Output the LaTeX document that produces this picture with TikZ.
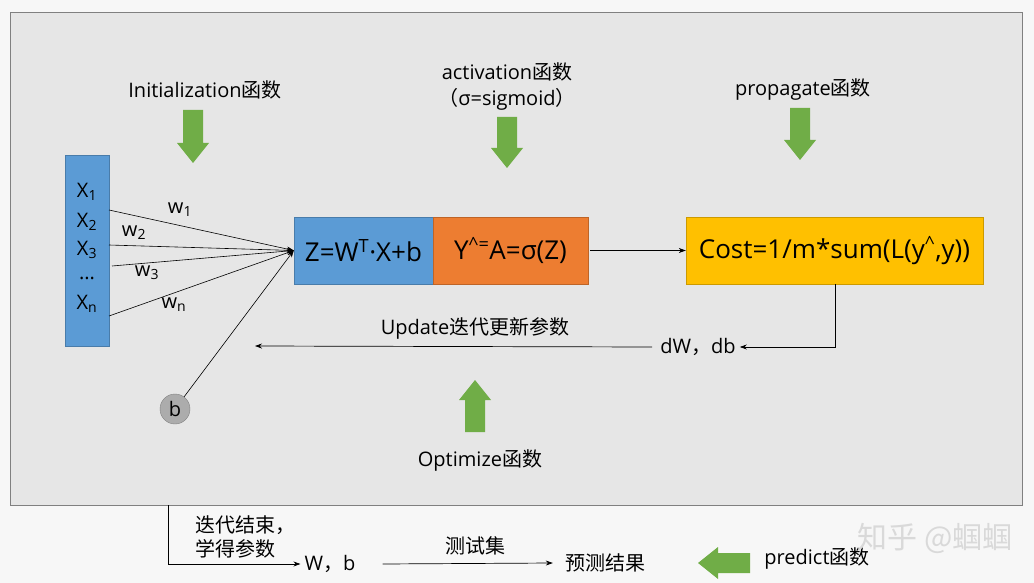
\documentclass[tikz,border=0pt]{standalone}
\usepackage{fontspec}
\setmainfont{Open Sans}
\newfontfamily\cjk{Noto Sans CJK SC}
\usetikzlibrary{arrows.meta}
\definecolor{bgout}{HTML}{F7F7F7}
\definecolor{bgin}{HTML}{E6E6E6}
\definecolor{bblue}{HTML}{5B9BD5}
\definecolor{borange}{HTML}{ED7D31}
\definecolor{byellow}{HTML}{FFC000}
\definecolor{bgreen}{HTML}{70AD47}
\tikzset{
 lbl/.style={font=\fontsize{20}{22}\selectfont, inner sep=0pt},
 big/.style={font=\fontsize{26}{28}\selectfont, inner sep=0pt},
 con/.style={draw=black, line width=0.7pt, -{Stealth[length=7pt,width=5pt]}},
}
\newcommand{\gdown}[3]{\fill[bgreen] (#1-10,#2) -- (#1+10,#2) -- (#1+10,#3-20) -- (#1+16,#3-20) -- (#1,#3) -- (#1-16,#3-20) -- (#1-10,#3-20) -- cycle;}
\newcommand{\gup}[3]{\fill[bgreen] (#1-10,#2) -- (#1+10,#2) -- (#1+10,#3+20) -- (#1+16,#3+20) -- (#1,#3) -- (#1-16,#3+20) -- (#1-10,#3+20) -- cycle;}
\begin{document}
\begin{tikzpicture}[x=1pt,y=-1pt]
\fill[bgout] (0,0) rectangle (1034,583);
\useasboundingbox (0,0) rectangle (1034,583);
\draw[gray, fill=bgin] (10,12) rectangle (1022,505);
% inputs
\node[fill=bblue, draw=bblue!80!black, minimum width=44pt, minimum height=191pt, inner sep=0pt] (x) at (87,250.5) {};
\node[lbl] (x1) at (87,192) {X\textsubscript{1}};
\node[lbl] (x2) at (87,222) {X\textsubscript{2}};
\node[lbl] (x3) at (87,250) {X\textsubscript{3}};
\node[lbl] (xd) at (87,278) {...};
\node[lbl] (xn) at (87,304) {X\textsubscript{n}};
\coordinate (s1) at (109,210);
\coordinate (s2) at (109,245);
\coordinate (s3) at (112,266);
\coordinate (sn) at (109,316);
\node[fill=bblue, draw=bblue!80!black, minimum width=139pt, minimum height=67pt, inner sep=0pt] (z) at (363.5,250.5) {};
\node[big] at (z) {Z=W\textsuperscript{T}·X+b};
\node[fill=borange, draw=borange!80!black, minimum width=155pt, minimum height=67pt, inner sep=0pt] (a) at (510.5,250.5) {};
\node[big] at (a) {Y\textsuperscript{\textasciicircum=}A=σ(Z)};
\node[fill=byellow, draw=byellow!80!black, minimum width=297pt, minimum height=67pt, inner sep=0pt] (c) at (834.5,250.5) {};
\node[big] at (c) {Cost=1/m*sum(L(y\textsuperscript{\textasciicircum},y))};
\coordinate (zin) at (z.west);
\foreach \s in {s1,s2,s3,sn} \draw[con, line width=0.6pt] (\s) -- (zin);
\node[circle, fill=gray!65, draw=gray, minimum size=30pt, inner sep=0pt, lbl] (b) at (175,409) {b};
\draw[con, line width=0.6pt] (b) -- (zin);
\node[lbl] at (180,210) {w\textsubscript{1}};
\node[lbl] at (134,233) {w\textsubscript{2}};
\node[lbl] at (147,273) {w\textsubscript{3}};
\node[lbl] at (174,305) {w\textsubscript{n}};
\draw[con] (a.east) ++(2,0) -- (c.west);
% back path
\node[lbl] (dw) at (698,347) {dW{\cjk ，}db};
\coordinate (cb) at (835,284);
\draw[con] (cb) |- ([xshift=4pt]dw.east);
\coordinate (uend) at (255,346);
\draw[con] ([xshift=-8pt]dw.west) -- (uend);
\node[lbl] at (475,328) {Update{\cjk 迭代更新参数}};
% green arrows & labels
\node[lbl] at (205,90) {Initialization{\cjk 函数}};
\gdown{193}{110}{163}
\node[lbl] at (507,72) {activation{\cjk 函数}};
\node[lbl] at (507,99) {{\cjk （}σ=sigmoid{\cjk ）}};
\gdown{507}{117}{168}
\node[lbl] at (803,89) {propagate{\cjk 函数}};
\gdown{800}{108}{160}
\gup{475}{432}{380}
\node[lbl] at (480,460) {Optimize{\cjk 函数}};
% bottom
\node[lbl] (wb) at (330,564) {W{\cjk ，}b};
\coordinate (ob) at (168,505);
\draw[con] (ob) |- ([xshift=-4pt]wb.west);
\node[lbl, align=left, anchor=west] at (195,537) {{\cjk 迭代结束，}\\[2pt]{\cjk 学得参数}};
\node[lbl] (res) at (605,563) {\cjk 预测结果};
\draw[con] ([xshift=27pt]wb.east) -- ([xshift=-12pt]res.west);
\node[lbl] at (475,546) {\cjk 测试集};
\fill[bgreen] (750,553) -- (750,573) -- (718,573) -- (718,579) -- (698,563) -- (718,547) -- (718,553) -- cycle;
\node[lbl] at (817,558) {predict{\cjk 函数}};
\node[font=\fontsize{30}{32}\selectfont\cjk, text=gray!30, inner sep=0pt] at (935,538) {知乎 @蝈蝈};
\end{tikzpicture}
\end{document}
